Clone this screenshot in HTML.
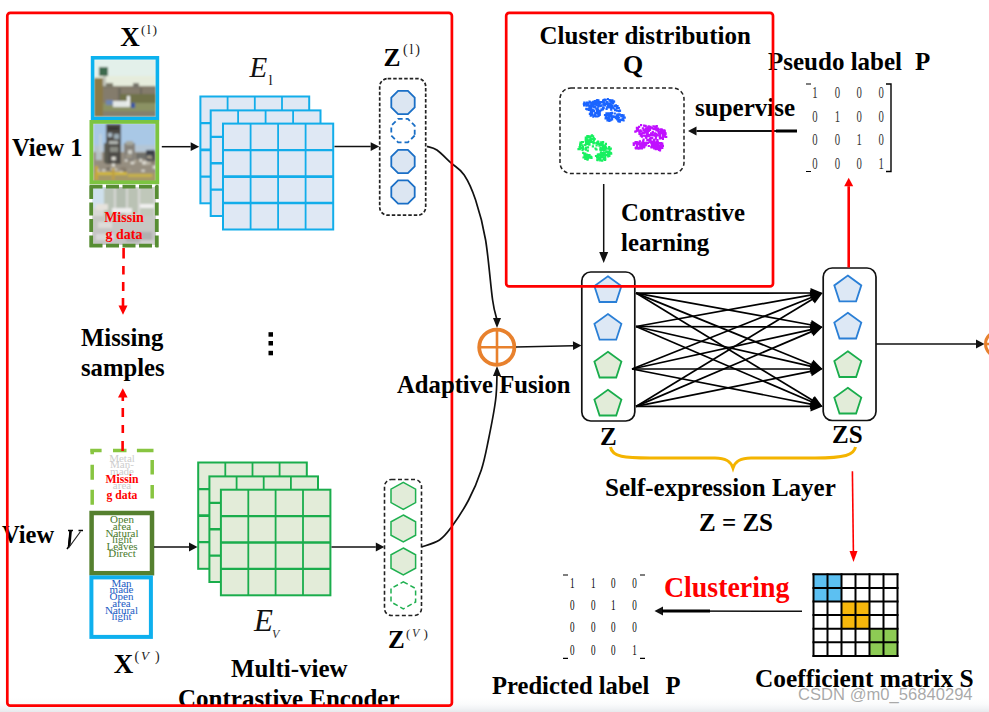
<!DOCTYPE html>
<html><head><meta charset="utf-8"><style>
html,body{margin:0;padding:0;background:#fff;width:989px;height:712px;overflow:hidden}
svg{display:block}
text{font-family:"Liberation Serif",serif}
.b{font-weight:bold}
</style></head><body>
<svg width="989" height="712" viewBox="0 0 989 712">
<defs>
<linearGradient id="bot" x1="0" y1="0" x2="0" y2="1"><stop offset="0" stop-color="#ffffff"/><stop offset="0.45" stop-color="#fafbfc"/><stop offset="0.75" stop-color="#f1f3f5"/><stop offset="1" stop-color="#e7eaed"/></linearGradient>
<clipPath id="clipBot"><rect x="0" y="0" width="989" height="708"/></clipPath>
</defs>
<rect x="0" y="698" width="989" height="14" fill="url(#bot)"/>
<rect x="200.4" y="96.5" width="108.8" height="106.8" fill="#dfe8f4" stroke="#12adea" stroke-width="2"/>
<line x1="227.6" y1="96.5" x2="227.6" y2="203.3" stroke="#12adea" stroke-width="1.8"/>
<line x1="200.4" y1="123.2" x2="309.2" y2="123.2" stroke="#12adea" stroke-width="2.3"/>
<line x1="254.8" y1="96.5" x2="254.8" y2="203.3" stroke="#12adea" stroke-width="1.8"/>
<line x1="200.4" y1="149.9" x2="309.2" y2="149.9" stroke="#12adea" stroke-width="2.6"/>
<line x1="282.0" y1="96.5" x2="282.0" y2="203.3" stroke="#12adea" stroke-width="1.8"/>
<line x1="200.4" y1="176.6" x2="309.2" y2="176.6" stroke="#12adea" stroke-width="2.3"/>
<rect x="210.7" y="110.4" width="109.8" height="105.6" fill="#dfe8f4" stroke="#12adea" stroke-width="2"/>
<line x1="238.1" y1="110.4" x2="238.1" y2="216.0" stroke="#12adea" stroke-width="1.8"/>
<line x1="210.7" y1="136.8" x2="320.5" y2="136.8" stroke="#12adea" stroke-width="2.3"/>
<line x1="265.6" y1="110.4" x2="265.6" y2="216.0" stroke="#12adea" stroke-width="1.8"/>
<line x1="210.7" y1="163.2" x2="320.5" y2="163.2" stroke="#12adea" stroke-width="2.6"/>
<line x1="293.1" y1="110.4" x2="293.1" y2="216.0" stroke="#12adea" stroke-width="1.8"/>
<line x1="210.7" y1="189.6" x2="320.5" y2="189.6" stroke="#12adea" stroke-width="2.3"/>
<rect x="223.0" y="123.6" width="110.2" height="105.9" fill="#dfe8f4" stroke="#12adea" stroke-width="2"/>
<line x1="250.6" y1="123.6" x2="250.6" y2="229.5" stroke="#12adea" stroke-width="1.8"/>
<line x1="223.0" y1="150.1" x2="333.2" y2="150.1" stroke="#12adea" stroke-width="2.3"/>
<line x1="278.1" y1="123.6" x2="278.1" y2="229.5" stroke="#12adea" stroke-width="1.8"/>
<line x1="223.0" y1="176.6" x2="333.2" y2="176.6" stroke="#12adea" stroke-width="2.6"/>
<line x1="305.6" y1="123.6" x2="305.6" y2="229.5" stroke="#12adea" stroke-width="1.8"/>
<line x1="223.0" y1="203.0" x2="333.2" y2="203.0" stroke="#12adea" stroke-width="2.3"/>
<rect x="198.2" y="462.5" width="108.6" height="106.3" fill="#e3ecd9" stroke="#1aad4c" stroke-width="2"/>
<line x1="225.3" y1="462.5" x2="225.3" y2="568.8" stroke="#1aad4c" stroke-width="1.8"/>
<line x1="198.2" y1="489.1" x2="306.8" y2="489.1" stroke="#1aad4c" stroke-width="2.3"/>
<line x1="252.5" y1="462.5" x2="252.5" y2="568.8" stroke="#1aad4c" stroke-width="1.8"/>
<line x1="198.2" y1="515.6" x2="306.8" y2="515.6" stroke="#1aad4c" stroke-width="2.6"/>
<line x1="279.6" y1="462.5" x2="279.6" y2="568.8" stroke="#1aad4c" stroke-width="1.8"/>
<line x1="198.2" y1="542.2" x2="306.8" y2="542.2" stroke="#1aad4c" stroke-width="2.3"/>
<rect x="209.4" y="476.4" width="108.6" height="105.6" fill="#e3ecd9" stroke="#1aad4c" stroke-width="2"/>
<line x1="236.6" y1="476.4" x2="236.6" y2="582.0" stroke="#1aad4c" stroke-width="1.8"/>
<line x1="209.4" y1="502.8" x2="318.0" y2="502.8" stroke="#1aad4c" stroke-width="2.3"/>
<line x1="263.7" y1="476.4" x2="263.7" y2="582.0" stroke="#1aad4c" stroke-width="1.8"/>
<line x1="209.4" y1="529.2" x2="318.0" y2="529.2" stroke="#1aad4c" stroke-width="2.6"/>
<line x1="290.9" y1="476.4" x2="290.9" y2="582.0" stroke="#1aad4c" stroke-width="1.8"/>
<line x1="209.4" y1="555.6" x2="318.0" y2="555.6" stroke="#1aad4c" stroke-width="2.3"/>
<rect x="220.9" y="489.7" width="109.5" height="105.6" fill="#e3ecd9" stroke="#1aad4c" stroke-width="2"/>
<line x1="248.3" y1="489.7" x2="248.3" y2="595.3" stroke="#1aad4c" stroke-width="1.8"/>
<line x1="220.9" y1="516.1" x2="330.4" y2="516.1" stroke="#1aad4c" stroke-width="2.3"/>
<line x1="275.6" y1="489.7" x2="275.6" y2="595.3" stroke="#1aad4c" stroke-width="1.8"/>
<line x1="220.9" y1="542.5" x2="330.4" y2="542.5" stroke="#1aad4c" stroke-width="2.6"/>
<line x1="303.0" y1="489.7" x2="303.0" y2="595.3" stroke="#1aad4c" stroke-width="1.8"/>
<line x1="220.9" y1="568.9" x2="330.4" y2="568.9" stroke="#1aad4c" stroke-width="2.3"/>
<defs><filter id="blur1" x="-5%" y="-5%" width="110%" height="110%"><feGaussianBlur stdDeviation="1.3"/></filter><filter id="blur2"><feGaussianBlur stdDeviation="0.5"/></filter><clipPath id="cp1"><rect x="94" y="59.5" width="62" height="58"/></clipPath><clipPath id="cp2"><rect x="93" y="123.5" width="63" height="58"/></clipPath><clipPath id="cp3"><rect x="92" y="187" width="64" height="58"/></clipPath></defs>
<g filter="url(#blur1)" clip-path="url(#cp1)"><rect x="94" y="59" width="62" height="60" fill="#e3f0ea" fill-opacity="1"/><rect x="94" y="76" width="62" height="12" fill="#e6ecdc" fill-opacity="1"/><rect x="103" y="86" width="53" height="17" fill="#847c6c" fill-opacity="1"/><rect x="104" y="83" width="9" height="5" fill="#7a7868" fill-opacity="1"/><rect x="133" y="83" width="6" height="5" fill="#77756a" fill-opacity="1"/><rect x="118" y="88" width="3" height="14" fill="#6e6a5e" fill-opacity="1"/><rect x="140" y="88" width="2" height="14" fill="#6a665c" fill-opacity="1"/><rect x="120" y="94" width="36" height="10" fill="#707248" fill-opacity="1"/><rect x="94" y="103" width="62" height="14" fill="#8b9264" fill-opacity="1"/><rect x="94" y="111" width="62" height="6" fill="#85806e" fill-opacity="1"/><rect x="94" y="78" width="9" height="39" fill="#8a7a46" fill-opacity="1"/><rect x="99" y="67" width="9" height="9" fill="#3d6b4e" fill-opacity="1"/><rect x="103" y="76" width="3" height="10" fill="#bfc2b8" fill-opacity="1"/><rect x="113" y="101" width="17" height="6" fill="#e4e8e6" fill-opacity="1"/><rect x="127" y="96" width="3" height="9" fill="#eef0ee" fill-opacity="1"/><rect x="131" y="103" width="4" height="5" fill="#3555a5" fill-opacity="1"/><rect x="106" y="100" width="7" height="5" fill="#6e86b0" fill-opacity="1"/></g>
<rect x="92.6" y="57.8" width="64.8" height="60.8" fill="none" stroke="#0cb2ee" stroke-width="3.6"/>
<g filter="url(#blur1)" clip-path="url(#cp2)"><rect x="93" y="123" width="63" height="59" fill="#a9c8e6" fill-opacity="1"/><rect x="93" y="145" width="63" height="8" fill="#b4c6d6" fill-opacity="1"/><rect x="93" y="152" width="63" height="30" fill="#968e80" fill-opacity="1"/><rect x="106" y="124" width="15" height="40" fill="#4e4c46" fill-opacity="1"/><rect x="108" y="127" width="11" height="3" fill="#343430" fill-opacity="1"/><rect x="108" y="133" width="4" height="4" fill="#a8b8c4" fill-opacity="1"/><rect x="114" y="134" width="5" height="5" fill="#9aaab4" fill-opacity="1"/><rect x="109" y="141" width="9" height="3" fill="#b0b4b0" fill-opacity="1"/><rect x="110" y="147" width="8" height="5" fill="#8a8c84" fill-opacity="1"/><rect x="104" y="143" width="4" height="20" fill="#5a5a50" fill-opacity="1"/><rect x="99.5" y="134" width="2" height="26" fill="#c8d2da" fill-opacity="1"/><rect x="96" y="148" width="3" height="12" fill="#b8c4c8" fill-opacity="1"/><rect x="124" y="143" width="11" height="18" fill="#86827a" fill-opacity="1"/><rect x="126" y="141" width="7" height="4" fill="#a6a89e" fill-opacity="1"/><rect x="128" y="150" width="4" height="4" fill="#d0d0c8" fill-opacity="1"/><rect x="146" y="150" width="9" height="11" fill="#3a404a" fill-opacity="1"/><rect x="136" y="153" width="10" height="6" fill="#70706a" fill-opacity="1"/><rect x="107.3" y="167.5" width="5.7" height="2.4" fill="#6e685c" fill-opacity="1"/><rect x="127.9" y="168.9" width="3.0" height="2.0" fill="#a49c8a" fill-opacity="1"/><rect x="152.7" y="165.8" width="3.9" height="2.8" fill="#e6e4dc" fill-opacity="1"/><rect x="102.0" y="169.6" width="3.6" height="1.5" fill="#e6e4dc" fill-opacity="1"/><rect x="139.6" y="158.7" width="2.2" height="3.1" fill="#e6e4dc" fill-opacity="1"/><rect x="142.4" y="161.2" width="4.9" height="3.3" fill="#e6e4dc" fill-opacity="1"/><rect x="135.8" y="176.2" width="4.9" height="2.7" fill="#a49c8a" fill-opacity="1"/><rect x="150.8" y="158.1" width="2.4" height="1.8" fill="#6e685c" fill-opacity="1"/><rect x="106.0" y="177.2" width="5.1" height="3.2" fill="#a49c8a" fill-opacity="1"/><rect x="118.3" y="174.2" width="3.4" height="2.7" fill="#e6e4dc" fill-opacity="1"/><rect x="128.1" y="175.8" width="5.7" height="1.6" fill="#8a8070" fill-opacity="1"/><rect x="109.8" y="168.9" width="2.7" height="3.2" fill="#8a8070" fill-opacity="1"/><rect x="150.9" y="175.8" width="2.4" height="2.8" fill="#e6e4dc" fill-opacity="1"/><rect x="131.0" y="177.7" width="3.1" height="1.6" fill="#6e685c" fill-opacity="1"/><rect x="144.2" y="177.8" width="3.4" height="1.6" fill="#d8d6cc" fill-opacity="1"/><rect x="146.8" y="155.5" width="5.1" height="3.2" fill="#a49c8a" fill-opacity="1"/><rect x="95.7" y="169.1" width="3.5" height="2.7" fill="#d8d6cc" fill-opacity="1"/><rect x="126.1" y="176.2" width="4.0" height="3.5" fill="#6e685c" fill-opacity="1"/><rect x="111.6" y="156.8" width="4.1" height="3.4" fill="#e6e4dc" fill-opacity="1"/><rect x="151.3" y="161.7" width="2.6" height="1.6" fill="#6e685c" fill-opacity="1"/><rect x="145.1" y="162.2" width="5.6" height="2.3" fill="#bcb6a8" fill-opacity="1"/><rect x="120.6" y="167.0" width="5.5" height="2.9" fill="#8a8070" fill-opacity="1"/><rect x="99.2" y="177.4" width="3.1" height="2.8" fill="#e6e4dc" fill-opacity="1"/><rect x="135.9" y="176.5" width="5.9" height="2.5" fill="#a49c8a" fill-opacity="1"/><rect x="125.9" y="155.3" width="5.9" height="2.1" fill="#a49c8a" fill-opacity="1"/><rect x="115.6" y="168.6" width="2.2" height="2.8" fill="#bcb6a8" fill-opacity="1"/><rect x="121.0" y="170.6" width="4.4" height="2.1" fill="#6e685c" fill-opacity="1"/><rect x="122.4" y="168.6" width="2.1" height="2.2" fill="#8a8070" fill-opacity="1"/><rect x="130.7" y="161.9" width="3.3" height="2.2" fill="#e6e4dc" fill-opacity="1"/><rect x="111.8" y="163.5" width="3.1" height="3.1" fill="#e6e4dc" fill-opacity="1"/><rect x="99.3" y="173.7" width="4.7" height="1.8" fill="#e6e4dc" fill-opacity="1"/><rect x="123.0" y="170.0" width="3.0" height="1.9" fill="#6e685c" fill-opacity="1"/><rect x="119.1" y="171.1" width="4.4" height="3.4" fill="#d8d6cc" fill-opacity="1"/><rect x="133.5" y="160.2" width="2.3" height="3.0" fill="#bcb6a8" fill-opacity="1"/><rect x="106.1" y="168.1" width="2.9" height="1.7" fill="#6e685c" fill-opacity="1"/><rect x="124.8" y="159.4" width="2.7" height="2.1" fill="#e6e4dc" fill-opacity="1"/><rect x="141.4" y="169.8" width="3.4" height="1.8" fill="#e6e4dc" fill-opacity="1"/><rect x="110.5" y="173.3" width="3.9" height="2.8" fill="#6e685c" fill-opacity="1"/><rect x="110.4" y="168.1" width="5.7" height="1.8" fill="#d8d6cc" fill-opacity="1"/><rect x="93.3" y="176.7" width="5.9" height="2.4" fill="#e6e4dc" fill-opacity="1"/><rect x="93" y="173" width="63" height="9" fill="#a69866" fill-opacity="1"/><rect x="95" y="172" width="32" height="3" fill="#d2b83a" fill-opacity="1"/><rect x="128" y="174" width="24" height="3" fill="#c6b04c" fill-opacity="1"/><rect x="95" y="166" width="3" height="14" fill="#c8a838" fill-opacity="1"/><rect x="112" y="168" width="2.5" height="12" fill="#c0a040" fill-opacity="1"/></g>
<rect x="91.4" y="121.9" width="65.9" height="60.4" fill="none" stroke="#7cc441" stroke-width="3.8"/>
<g filter="url(#blur1)" clip-path="url(#cp3)"><rect x="92" y="186" width="65" height="60" fill="#d8d8d6" fill-opacity="1"/><rect x="92" y="186" width="22" height="22" fill="#cfe0ec" fill-opacity="1"/><rect x="104" y="188" width="10" height="28" fill="#b9c2b6" fill-opacity="1"/><rect x="116" y="186" width="10" height="30" fill="#b4bdb0" fill-opacity="1"/><rect x="128" y="188" width="10" height="26" fill="#bac2b4" fill-opacity="1"/><rect x="140" y="186" width="14" height="30" fill="#c0c8ba" fill-opacity="1"/><rect x="96" y="204" width="12" height="6" fill="#e6e2dc" fill-opacity="1"/><rect x="112" y="208" width="20" height="5" fill="#ececec" fill-opacity="1"/><rect x="140" y="204" width="14" height="4" fill="#f0f0f0" fill-opacity="1"/><rect x="92" y="216" width="65" height="14" fill="#c6c8c4" fill-opacity="1"/><rect x="98" y="222" width="14" height="6" fill="#dcdcd8" fill-opacity="1"/><rect x="92" y="230" width="65" height="16" fill="#c4c4c4" fill-opacity="1"/><rect x="96" y="234" width="18" height="6" fill="#d8d8d8" fill-opacity="1"/><rect x="126" y="232" width="26" height="10" fill="#b0b0b0" fill-opacity="1"/><rect x="140" y="240" width="16" height="6" fill="#d0d0d0" fill-opacity="1"/></g>
<path d="M91.2,186 V247 M156.8,186 V247 M89.5,186.6 H158.5 M89.5,245.6 H158.5" fill="none" stroke="#578d33" stroke-width="3.8" stroke-dasharray="13,3.5"/>
<text x="124" y="222.4" font-size="14" class="b" fill="#ff0000" text-anchor="middle">Missin</text>
<text x="124" y="239.4" font-size="14" class="b" fill="#ff0000" text-anchor="middle">g data</text>
<path d="M90.2,450.6 H101.6 M113,450.6 H126.5 M136.9,450.6 H153.5 M92.2,449 V454.3 M92.2,464.7 V479.8 M92.2,489.7 V504.7 M152.2,460 V474.6 M152.2,485 V498.5" fill="none" stroke="#88c541" stroke-width="3.5"/>
<text x="0" y="0" font-size="11" fill="#cdcdcd" text-anchor="middle" transform="translate(122,461.6) scale(1.0,1)" >Metal</text>
<text x="0" y="0" font-size="11" fill="#cdcdcd" text-anchor="middle" transform="translate(122,468.3) scale(1.0,1)" >Man-</text>
<text x="0" y="0" font-size="11" fill="#cdcdcd" text-anchor="middle" transform="translate(122,475) scale(1.0,1)" >made</text>
<text x="0" y="0" font-size="11" fill="#cdcdcd" text-anchor="middle" transform="translate(122,489) scale(1.0,1)" >area</text>
<text x="0" y="0" font-size="13" fill="#ff0000" text-anchor="middle" transform="translate(122,482.9) scale(0.9,1)" font-weight="bold">Missin</text>
<text x="0" y="0" font-size="13" fill="#ff0000" text-anchor="middle" transform="translate(122,499) scale(0.9,1)" font-weight="bold">g data</text>
<rect x="91.6" y="513" width="60.4" height="60.2" fill="#fff" stroke="#55802f" stroke-width="4.5"/>
<text x="0" y="0" font-size="10.5" fill="#4a7a2c" text-anchor="middle" transform="translate(122,523.2) scale(1.05,1)" >Open</text>
<text x="0" y="0" font-size="10.5" fill="#4a7a2c" text-anchor="middle" transform="translate(122,529.95) scale(1.05,1)" >area</text>
<text x="0" y="0" font-size="10.5" fill="#4a7a2c" text-anchor="middle" transform="translate(122,536.7) scale(1.05,1)" >Natural</text>
<text x="0" y="0" font-size="10.5" fill="#4a7a2c" text-anchor="middle" transform="translate(122,543.45) scale(1.05,1)" >light</text>
<text x="0" y="0" font-size="10.5" fill="#4a7a2c" text-anchor="middle" transform="translate(122,550.2) scale(1.05,1)" >Leaves</text>
<text x="0" y="0" font-size="10.5" fill="#4a7a2c" text-anchor="middle" transform="translate(122,556.95) scale(1.05,1)" >Direct</text>
<rect x="91.4" y="577.4" width="59.5" height="59.5" fill="#fff" stroke="#0eb0ee" stroke-width="4"/>
<text x="0" y="0" font-size="10.5" fill="#1a5cc4" text-anchor="middle" transform="translate(121.5,586.5) scale(1.05,1)" >Man</text>
<text x="0" y="0" font-size="10.5" fill="#1a5cc4" text-anchor="middle" transform="translate(121.5,593.25) scale(1.05,1)" >made</text>
<text x="0" y="0" font-size="10.5" fill="#1a5cc4" text-anchor="middle" transform="translate(121.5,600.0) scale(1.05,1)" >Open</text>
<text x="0" y="0" font-size="10.5" fill="#1a5cc4" text-anchor="middle" transform="translate(121.5,606.75) scale(1.05,1)" >area</text>
<text x="0" y="0" font-size="10.5" fill="#1a5cc4" text-anchor="middle" transform="translate(121.5,613.5) scale(1.05,1)" >Natural</text>
<text x="0" y="0" font-size="10.5" fill="#1a5cc4" text-anchor="middle" transform="translate(121.5,620.25) scale(1.05,1)" >light</text>
<text x="12" y="156" font-size="24.5" class="b">View 1</text>
<text x="2" y="543.3" font-size="24.5" class="b">View</text>
<path d="M68,530.5 H73 M78.5,530.5 H83 M70.5,531 L68.5,547 L67,549" fill="none" stroke="#000" stroke-width="1.6"/><path d="M70.6,531 L69.2,546" stroke="#000" stroke-width="2.6"/><path d="M80.5,531.5 L68.5,548" stroke="#222" stroke-width="1.2"/>
<text x="120.3" y="46" font-size="27" class="b">X</text>
<text x="141" y="33.5" font-size="13.5" fill="#222" letter-spacing="1.6">(l)</text>
<text x="113.7" y="673" font-size="27" class="b">X</text>
<text x="134.5" y="661" font-size="14" fill="#222">(</text><text x="141" y="660" font-size="13" font-style="italic" fill="#222">V</text><text x="155" y="661" font-size="14" fill="#222">)</text>
<text x="81" y="345.7" font-size="24.7" class="b">Missing</text>
<text x="81" y="376" font-size="24.7" class="b">samples</text>
<rect x="268.5" y="332.2" width="4.5" height="4.5" fill="#000"/>
<rect x="268.5" y="341.0" width="4.5" height="4.5" fill="#000"/>
<rect x="268.5" y="350.8" width="4.5" height="4.5" fill="#000"/>
<text x="249.5" y="77" font-size="29" font-style="italic" fill="#111">E</text>
<text x="268.5" y="84.5" font-size="15" fill="#222">l</text>
<text x="254" y="630.5" font-size="31" font-style="italic" fill="#111">E</text>
<text x="272" y="637.5" font-size="12" font-style="italic" fill="#333">V</text>
<text x="383.6" y="65.6" font-size="25.5" class="b">Z</text>
<text x="403" y="53.5" font-size="14" fill="#222" letter-spacing="1.8">(l)</text>
<text x="388" y="648" font-size="25" class="b">Z</text>
<text x="406" y="638" font-size="13" fill="#222">(</text><text x="412" y="636.5" font-size="12" font-style="italic" fill="#333">V</text><text x="423.5" y="638" font-size="13" fill="#222">)</text>
<text x="231" y="677" font-size="25" class="b">Multi-view</text>
<g clip-path="url(#clipBot)"><text x="178" y="707" font-size="25" class="b">Contrastive Encoder</text></g>
<line x1="161.8" y1="146.7" x2="190.7" y2="146.7" stroke="#111" stroke-width="1.5"/>
<path d="M199.2,146.7 L190.7,151.1 L190.7,142.3z" fill="#111"/>
<line x1="334.5" y1="146.6" x2="370.7" y2="146.6" stroke="#111" stroke-width="1.5"/>
<path d="M379.2,146.6 L370.7,151.0 L370.7,142.2z" fill="#111"/>
<line x1="154" y1="547" x2="189.0" y2="547.0" stroke="#111" stroke-width="1.5"/>
<path d="M197.5,547.0 L189.0,551.4 L189.0,542.6z" fill="#111"/>
<line x1="331.5" y1="547" x2="375.8" y2="547.0" stroke="#111" stroke-width="1.5"/>
<path d="M384.3,547.0 L375.8,551.4 L375.8,542.6z" fill="#111"/>
<path d="M123.6,248 V258.5 M123.4,266 V274.5 M123.2,282 V291 M123,298 V307" stroke="#ff0000" stroke-width="2.6" fill="none"/>
<path d="M123,314.8 L118.5,305.5 L127.5,305.5z" fill="#ff0000"/>
<path d="M122.8,396 V401 M122.8,408 V417 M122.8,425 V433 M122.6,441 V451" stroke="#ff0000" stroke-width="2.6" fill="none"/>
<path d="M122.8,388.2 L118,397.5 L127.6,397.5z" fill="#ff0000"/>
<rect x="379.7" y="78.6" width="46" height="136.6" rx="8" fill="#fff" stroke="#222" stroke-width="1.7" stroke-dasharray="3.5,2"/>
<polygon points="414.7,107.4 407.9,114.2 398.1,114.2 391.3,107.4 391.3,97.6 398.1,90.8 407.9,90.8 414.7,97.6" fill="#dce6f2" stroke="#1a6fc6" stroke-width="1.8"/>
<polygon points="414.7,135.5 407.9,142.3 398.1,142.3 391.3,135.5 391.3,125.7 398.1,118.9 407.9,118.9 414.7,125.7" fill="#fff" stroke="#1a6fc6" stroke-width="1.8" stroke-dasharray="5,3"/>
<polygon points="414.7,166.4 407.9,173.2 398.1,173.2 391.3,166.4 391.3,156.6 398.1,149.8 407.9,149.8 414.7,156.6" fill="#dce6f2" stroke="#1a6fc6" stroke-width="1.8"/>
<polygon points="414.7,196.9 407.9,203.7 398.1,203.7 391.3,196.9 391.3,187.1 398.1,180.3 407.9,180.3 414.7,187.1" fill="#dce6f2" stroke="#1a6fc6" stroke-width="1.8"/>
<rect x="384.5" y="479.5" width="37" height="136" rx="7" fill="#fff" stroke="#222" stroke-width="1.6" stroke-dasharray="4,2.5"/>
<polygon points="403.3,482.4 415.6,489.1 415.6,502.6 403.3,509.4 391.0,502.6 391.0,489.1" fill="#e2ecd9" stroke="#1fb050" stroke-width="1.5"/>
<polygon points="403.3,515.0 415.6,521.8 415.6,535.2 403.3,542.0 391.0,535.2 391.0,521.8" fill="#e2ecd9" stroke="#1fb050" stroke-width="1.5"/>
<polygon points="403.3,548.0 415.6,554.8 415.6,568.2 403.3,575.0 391.0,568.2 391.0,554.8" fill="#e2ecd9" stroke="#1fb050" stroke-width="1.5"/>
<polygon points="403.3,581.8 415.6,588.5 415.6,602.0 403.3,608.8 391.0,602.0 391.0,588.5" fill="#fff" stroke="#1fb050" stroke-width="1.5" stroke-dasharray="5,3"/>
<path d="M427,146.4 C428.6,147.0 432.9,147.2 436.9,150 C440.9,152.8 446.4,158.7 451,162.9 C455.6,167.1 460.1,168.8 464.2,175 C468.3,181.2 472.0,189.2 475.6,200 C479.2,210.8 482.8,223.3 485.6,240 C488.4,256.7 490.7,286.7 492.6,300 C494.5,313.3 496.3,316.7 497,320" fill="none" stroke="#111" stroke-width="1.7"/>
<path d="M497,328 L493,318 L501,318z" fill="#111"/>
<path d="M421.5,547 C424.5,545.8 434.6,543.2 439.5,540 C444.4,536.8 446.1,534.4 451,527.7 C455.9,521.0 463.6,509.6 468.6,500 C473.7,490.4 478.0,480.0 481.3,470 C484.6,460.0 486.0,451.7 488.4,440 C490.8,428.3 494.2,411.0 495.6,400 C497.0,389.0 496.8,378.3 497,374" fill="none" stroke="#111" stroke-width="1.7"/>
<path d="M497,366 L493,376 L501,376z" fill="#111"/>
<rect x="7.3" y="12.8" width="444.6" height="692.9" rx="3" fill="none" stroke="#ff0000" stroke-width="2.7"/>
<circle cx="496.8" cy="347.2" r="17.6" fill="#fff" stroke="#e8812d" stroke-width="3.8"/>
<line x1="479" y1="347.3" x2="515" y2="347.3" stroke="#e8812d" stroke-width="2.6"/>
<line x1="497" y1="329.3" x2="497" y2="365.3" stroke="#e8812d" stroke-width="2.6"/>
<text x="397" y="393.4" font-size="24.7" class="b">Adaptive Fusion</text>
<line x1="516" y1="347" x2="573.0" y2="345.7" stroke="#111" stroke-width="1.5"/>
<path d="M581.5,345.5 L573.1,350.1 L572.9,341.3z" fill="#111"/>
<rect x="581.8" y="272" width="53" height="149" rx="9" fill="#fff" stroke="#111" stroke-width="1.7"/>
<rect x="823.2" y="268" width="52.8" height="152.5" rx="9" fill="#fff" stroke="#111" stroke-width="1.7"/>
<polygon points="607.9,276.3 621.4,286.1 616.2,302.0 599.6,302.0 594.4,286.1" fill="#dde8f5" stroke="#2a7fd6" stroke-width="1.8"/>
<polygon points="607.9,314.0 621.4,323.8 616.2,339.7 599.6,339.7 594.4,323.8" fill="#dde8f5" stroke="#2a7fd6" stroke-width="1.8"/>
<polygon points="607.9,351.8 621.4,361.6 616.2,377.5 599.6,377.5 594.4,361.6" fill="#e2ecd9" stroke="#1aad4c" stroke-width="1.8"/>
<polygon points="607.9,389.8 621.4,399.6 616.2,415.5 599.6,415.5 594.4,399.6" fill="#e2ecd9" stroke="#1aad4c" stroke-width="1.8"/>
<polygon points="847.8,275.6 861.3,285.4 856.1,301.3 839.5,301.3 834.3,285.4" fill="#dde8f5" stroke="#2a7fd6" stroke-width="1.8"/>
<polygon points="847.8,312.8 861.3,322.6 856.1,338.5 839.5,338.5 834.3,322.6" fill="#dde8f5" stroke="#2a7fd6" stroke-width="1.8"/>
<polygon points="847.8,351.3 861.3,361.1 856.1,377.0 839.5,377.0 834.3,361.1" fill="#e2ecd9" stroke="#1aad4c" stroke-width="1.8"/>
<polygon points="847.8,387.8 861.3,397.6 856.1,413.5 839.5,413.5 834.3,397.6" fill="#e2ecd9" stroke="#1aad4c" stroke-width="1.8"/>
<line x1="636" y1="293.1" x2="814.5" y2="293.0" stroke="#000" stroke-width="1.7"/>
<line x1="636" y1="293.1" x2="814.5" y2="325.5" stroke="#000" stroke-width="1.7"/>
<line x1="636" y1="293.1" x2="814.5" y2="365.8" stroke="#000" stroke-width="1.7"/>
<line x1="636" y1="293.1" x2="814.5" y2="401.6" stroke="#000" stroke-width="1.7"/>
<line x1="636" y1="326.5" x2="814.5" y2="294.4" stroke="#000" stroke-width="1.7"/>
<line x1="636" y1="326.5" x2="814.5" y2="327.0" stroke="#000" stroke-width="1.7"/>
<line x1="636" y1="326.5" x2="814.5" y2="367.2" stroke="#000" stroke-width="1.7"/>
<line x1="636" y1="326.5" x2="814.5" y2="403.0" stroke="#000" stroke-width="1.7"/>
<line x1="632" y1="369" x2="814.5" y2="296.3" stroke="#000" stroke-width="1.7"/>
<line x1="632" y1="369" x2="814.5" y2="328.8" stroke="#000" stroke-width="1.7"/>
<line x1="632" y1="369" x2="814.5" y2="369.0" stroke="#000" stroke-width="1.7"/>
<line x1="632" y1="369" x2="814.5" y2="404.8" stroke="#000" stroke-width="1.7"/>
<line x1="636" y1="406.4" x2="814.5" y2="297.9" stroke="#000" stroke-width="1.7"/>
<line x1="636" y1="406.4" x2="814.5" y2="330.4" stroke="#000" stroke-width="1.7"/>
<line x1="636" y1="406.4" x2="814.5" y2="370.6" stroke="#000" stroke-width="1.7"/>
<line x1="636" y1="406.4" x2="814.5" y2="406.4" stroke="#000" stroke-width="1.7"/>
<path d="M822.5,293 L810.5,298.0 L810.5,288.0z" fill="#000"/>
<path d="M822.5,293 L811.6,300.0 L809.8,290.2z" fill="#000"/>
<path d="M822.5,293 L813.2,302.1 L809.5,292.8z" fill="#000"/>
<path d="M822.5,293 L814.8,303.5 L809.6,295.0z" fill="#000"/>
<path d="M822.5,327 L809.8,329.8 L811.6,319.9z" fill="#000"/>
<path d="M822.5,327 L810.5,332.0 L810.5,322.0z" fill="#000"/>
<path d="M822.5,327 L811.9,334.5 L809.7,324.7z" fill="#000"/>
<path d="M822.5,327 L813.4,336.3 L809.5,327.1z" fill="#000"/>
<path d="M822.5,369 L809.5,369.1 L813.3,359.8z" fill="#000"/>
<path d="M822.5,369 L809.7,371.2 L811.9,361.5z" fill="#000"/>
<path d="M822.5,369 L810.5,374.0 L810.5,364.0z" fill="#000"/>
<path d="M822.5,369 L811.7,376.3 L809.8,366.5z" fill="#000"/>
<path d="M822.5,406.4 L809.6,404.4 L814.8,395.9z" fill="#000"/>
<path d="M822.5,406.4 L809.5,406.3 L813.4,397.1z" fill="#000"/>
<path d="M822.5,406.4 L809.8,409.0 L811.7,399.2z" fill="#000"/>
<path d="M822.5,406.4 L810.5,411.4 L810.5,401.4z" fill="#000"/>
<text x="600" y="445.3" font-size="25" class="b">Z</text>
<text x="832" y="443.2" font-size="25" class="b">ZS</text>
<line x1="876" y1="344" x2="976.0" y2="344.0" stroke="#111" stroke-width="1.7"/>
<path d="M984.5,344.0 L976.0,348.4 L976.0,339.6z" fill="#111"/>
<circle cx="998" cy="344" r="12.5" fill="#fff" stroke="#e8812d" stroke-width="3"/>
<line x1="985" y1="344" x2="989" y2="344" stroke="#e8812d" stroke-width="2.5"/>
<path d="M610.5,447 C612,457 625,458 650,458 L715,458 C727,458 731,462 733,468 C735,462 739,458 751,458 L815,458 C845,458 854,455 855.5,447" fill="none" stroke="#f4b400" stroke-width="3"/>
<text x="605" y="495.7" font-size="25" class="b">Self-expression Layer</text>
<text x="699" y="531" font-size="25" class="b">Z = ZS</text>
<text x="539.5" y="44.2" font-size="25" class="b">Cluster distribution</text>
<text x="623" y="73" font-size="26" class="b">Q</text>
<rect x="560" y="88" width="124" height="85.5" rx="11" fill="none" stroke="#222" stroke-width="1.5" stroke-dasharray="4,2.5"/>
<path d="M612.4,100.2h2.2v2.2h-2.2zM583.0,104.4h2.2v2.2h-2.2zM608.0,104.3h2.2v2.2h-2.2zM592.4,103.2h2.2v2.2h-2.2zM585.4,104.5h2.2v2.2h-2.2zM593.6,100.2h2.2v2.2h-2.2zM599.6,105.0h2.2v2.2h-2.2zM590.1,103.0h2.2v2.2h-2.2zM595.5,99.7h2.2v2.2h-2.2zM590.0,104.6h2.2v2.2h-2.2zM590.2,112.7h2.2v2.2h-2.2zM596.5,112.5h2.2v2.2h-2.2zM616.1,118.4h2.2v2.2h-2.2zM615.9,109.5h2.2v2.2h-2.2zM610.1,106.5h2.2v2.2h-2.2zM600.4,100.9h2.2v2.2h-2.2zM617.0,117.0h2.2v2.2h-2.2zM609.8,99.3h2.2v2.2h-2.2zM583.7,103.2h2.2v2.2h-2.2zM606.4,119.3h2.2v2.2h-2.2zM605.5,112.4h2.2v2.2h-2.2zM608.6,117.9h2.2v2.2h-2.2zM606.1,117.0h2.2v2.2h-2.2zM619.0,119.4h2.2v2.2h-2.2zM588.6,105.6h2.2v2.2h-2.2zM592.2,102.1h2.2v2.2h-2.2zM616.8,116.1h2.2v2.2h-2.2zM592.2,115.5h2.2v2.2h-2.2zM602.6,99.0h2.2v2.2h-2.2zM617.8,110.0h2.2v2.2h-2.2zM597.4,104.6h2.2v2.2h-2.2zM601.8,108.4h2.2v2.2h-2.2zM609.2,100.0h2.2v2.2h-2.2zM593.8,100.1h2.2v2.2h-2.2zM602.0,100.2h2.2v2.2h-2.2zM605.4,101.5h2.2v2.2h-2.2zM600.3,104.2h2.2v2.2h-2.2zM620.5,118.9h2.2v2.2h-2.2zM617.6,113.9h2.2v2.2h-2.2zM609.8,115.6h2.2v2.2h-2.2zM610.6,104.4h2.2v2.2h-2.2zM592.8,109.5h2.2v2.2h-2.2zM597.3,99.3h2.2v2.2h-2.2zM617.6,113.2h2.2v2.2h-2.2zM605.1,113.8h2.2v2.2h-2.2zM591.0,110.8h2.2v2.2h-2.2zM606.7,97.9h2.2v2.2h-2.2zM618.9,109.5h2.2v2.2h-2.2zM609.4,105.0h2.2v2.2h-2.2zM592.1,110.1h2.2v2.2h-2.2zM609.9,115.2h2.2v2.2h-2.2zM603.4,104.3h2.2v2.2h-2.2zM600.3,109.0h2.2v2.2h-2.2zM608.3,119.8h2.2v2.2h-2.2zM608.2,119.1h2.2v2.2h-2.2zM610.3,101.3h2.2v2.2h-2.2zM608.0,116.4h2.2v2.2h-2.2zM622.5,119.4h2.2v2.2h-2.2zM607.0,118.0h2.2v2.2h-2.2zM598.2,102.3h2.2v2.2h-2.2zM588.6,100.9h2.2v2.2h-2.2zM623.6,116.6h2.2v2.2h-2.2zM592.4,109.8h2.2v2.2h-2.2zM597.6,102.1h2.2v2.2h-2.2zM613.7,115.6h2.2v2.2h-2.2zM606.4,116.4h2.2v2.2h-2.2zM609.6,119.1h2.2v2.2h-2.2zM610.1,112.0h2.2v2.2h-2.2zM597.2,105.6h2.2v2.2h-2.2zM587.5,103.0h2.2v2.2h-2.2zM592.1,100.7h2.2v2.2h-2.2zM592.3,105.1h2.2v2.2h-2.2zM616.3,105.0h2.2v2.2h-2.2zM609.0,114.7h2.2v2.2h-2.2zM602.9,101.4h2.2v2.2h-2.2zM591.1,104.3h2.2v2.2h-2.2zM597.2,108.5h2.2v2.2h-2.2zM605.1,115.0h2.2v2.2h-2.2zM608.9,112.6h2.2v2.2h-2.2zM615.4,115.6h2.2v2.2h-2.2zM595.0,115.2h2.2v2.2h-2.2zM612.1,115.2h2.2v2.2h-2.2zM611.0,111.7h2.2v2.2h-2.2zM613.7,104.7h2.2v2.2h-2.2zM586.6,104.2h2.2v2.2h-2.2zM618.8,119.2h2.2v2.2h-2.2zM618.5,113.2h2.2v2.2h-2.2zM588.2,105.1h2.2v2.2h-2.2zM620.1,114.6h2.2v2.2h-2.2zM606.4,101.3h2.2v2.2h-2.2zM612.1,106.5h2.2v2.2h-2.2zM616.6,117.5h2.2v2.2h-2.2zM602.1,99.6h2.2v2.2h-2.2zM587.5,102.2h2.2v2.2h-2.2zM590.9,108.6h2.2v2.2h-2.2zM591.6,109.0h2.2v2.2h-2.2zM604.5,117.2h2.2v2.2h-2.2zM592.4,110.0h2.2v2.2h-2.2zM603.4,102.8h2.2v2.2h-2.2zM607.3,112.3h2.2v2.2h-2.2zM593.9,103.2h2.2v2.2h-2.2zM618.0,116.4h2.2v2.2h-2.2zM604.8,102.8h2.2v2.2h-2.2zM586.7,103.6h2.2v2.2h-2.2zM595.5,112.1h2.2v2.2h-2.2zM585.2,107.8h2.2v2.2h-2.2zM592.9,101.7h2.2v2.2h-2.2zM601.8,108.2h2.2v2.2h-2.2zM597.8,110.1h2.2v2.2h-2.2zM598.4,104.2h2.2v2.2h-2.2zM614.8,104.3h2.2v2.2h-2.2zM593.2,100.8h2.2v2.2h-2.2zM583.2,101.6h2.2v2.2h-2.2zM622.6,116.6h2.2v2.2h-2.2zM612.0,102.0h2.2v2.2h-2.2zM589.4,101.4h2.2v2.2h-2.2zM590.8,104.3h2.2v2.2h-2.2zM595.5,104.0h2.2v2.2h-2.2zM595.2,107.6h2.2v2.2h-2.2zM607.1,104.8h2.2v2.2h-2.2zM618.7,120.5h2.2v2.2h-2.2zM591.2,105.5h2.2v2.2h-2.2zM593.9,114.7h2.2v2.2h-2.2zM608.0,106.2h2.2v2.2h-2.2zM602.0,106.5h2.2v2.2h-2.2zM598.6,111.4h2.2v2.2h-2.2zM594.2,105.7h2.2v2.2h-2.2zM608.2,102.5h2.2v2.2h-2.2zM588.4,100.6h2.2v2.2h-2.2zM609.5,103.5h2.2v2.2h-2.2zM603.6,98.5h2.2v2.2h-2.2zM605.6,100.8h2.2v2.2h-2.2zM620.6,115.0h2.2v2.2h-2.2zM603.9,114.0h2.2v2.2h-2.2zM587.5,102.0h2.2v2.2h-2.2zM590.8,112.7h2.2v2.2h-2.2zM622.5,114.2h2.2v2.2h-2.2zM597.4,112.8h2.2v2.2h-2.2zM604.5,117.2h2.2v2.2h-2.2zM589.7,114.6h2.2v2.2h-2.2zM598.7,113.0h2.2v2.2h-2.2zM596.4,112.0h2.2v2.2h-2.2zM621.5,117.5h2.2v2.2h-2.2zM611.0,118.3h2.2v2.2h-2.2zM622.0,118.7h2.2v2.2h-2.2zM595.7,108.7h2.2v2.2h-2.2zM583.9,102.6h2.2v2.2h-2.2zM587.3,103.5h2.2v2.2h-2.2zM590.8,105.3h2.2v2.2h-2.2zM590.9,110.1h2.2v2.2h-2.2zM616.2,113.5h2.2v2.2h-2.2zM619.3,119.0h2.2v2.2h-2.2zM608.5,104.0h2.2v2.2h-2.2zM603.8,103.1h2.2v2.2h-2.2zM597.9,102.6h2.2v2.2h-2.2zM617.7,107.0h2.2v2.2h-2.2zM590.6,105.4h2.2v2.2h-2.2zM590.4,102.3h2.2v2.2h-2.2zM596.9,110.4h2.2v2.2h-2.2zM615.3,116.9h2.2v2.2h-2.2zM608.8,112.4h2.2v2.2h-2.2zM590.6,111.9h2.2v2.2h-2.2zM594.2,111.7h2.2v2.2h-2.2zM612.7,107.4h2.2v2.2h-2.2zM588.4,107.2h2.2v2.2h-2.2zM615.5,106.7h2.2v2.2h-2.2zM602.6,103.6h2.2v2.2h-2.2zM616.8,113.9h2.2v2.2h-2.2zM603.8,104.2h2.2v2.2h-2.2zM610.5,105.2h2.2v2.2h-2.2zM614.5,108.7h2.2v2.2h-2.2zM589.7,110.8h2.2v2.2h-2.2zM602.5,99.7h2.2v2.2h-2.2zM610.0,103.7h2.2v2.2h-2.2zM587.5,107.7h2.2v2.2h-2.2zM587.0,103.3h2.2v2.2h-2.2zM611.3,99.2h2.2v2.2h-2.2zM593.7,101.9h2.2v2.2h-2.2zM595.0,101.2h2.2v2.2h-2.2zM617.2,119.2h2.2v2.2h-2.2zM611.1,116.3h2.2v2.2h-2.2zM619.5,118.8h2.2v2.2h-2.2zM595.1,103.1h2.2v2.2h-2.2zM621.5,118.2h2.2v2.2h-2.2zM606.8,104.3h2.2v2.2h-2.2zM615.3,116.8h2.2v2.2h-2.2zM604.4,99.0h2.2v2.2h-2.2zM595.9,110.4h2.2v2.2h-2.2zM620.7,114.0h2.2v2.2h-2.2zM589.9,109.7h2.2v2.2h-2.2zM608.0,112.2h2.2v2.2h-2.2zM613.0,100.6h2.2v2.2h-2.2zM598.6,100.9h2.2v2.2h-2.2zM596.1,99.1h2.2v2.2h-2.2zM596.4,107.7h2.2v2.2h-2.2zM602.6,107.0h2.2v2.2h-2.2zM610.4,113.4h2.2v2.2h-2.2zM596.5,102.1h2.2v2.2h-2.2zM589.0,104.7h2.2v2.2h-2.2zM602.5,101.0h2.2v2.2h-2.2zM597.5,114.8h2.2v2.2h-2.2zM585.8,101.5h2.2v2.2h-2.2zM614.0,109.0h2.2v2.2h-2.2zM609.5,104.2h2.2v2.2h-2.2zM618.6,109.9h2.2v2.2h-2.2zM587.5,108.3h2.2v2.2h-2.2zM608.3,114.7h2.2v2.2h-2.2zM608.5,104.5h2.2v2.2h-2.2zM600.4,108.2h2.2v2.2h-2.2zM606.2,113.9h2.2v2.2h-2.2zM593.0,101.3h2.2v2.2h-2.2zM591.0,102.0h2.2v2.2h-2.2zM599.5,104.3h2.2v2.2h-2.2zM614.8,104.6h2.2v2.2h-2.2zM586.2,108.4h2.2v2.2h-2.2zM596.7,100.7h2.2v2.2h-2.2zM617.2,119.7h2.2v2.2h-2.2zM597.7,100.8h2.2v2.2h-2.2zM592.4,102.9h2.2v2.2h-2.2zM594.0,113.4h2.2v2.2h-2.2zM606.1,106.2h2.2v2.2h-2.2zM605.5,107.7h2.2v2.2h-2.2zM610.1,108.5h2.2v2.2h-2.2zM593.2,106.4h2.2v2.2h-2.2zM614.7,117.0h2.2v2.2h-2.2zM595.7,107.8h2.2v2.2h-2.2zM597.6,101.2h2.2v2.2h-2.2zM602.3,102.0h2.2v2.2h-2.2zM615.9,114.8h2.2v2.2h-2.2zM613.3,115.9h2.2v2.2h-2.2zM582.8,102.9h2.2v2.2h-2.2zM598.6,113.9h2.2v2.2h-2.2zM595.0,102.3h2.2v2.2h-2.2zM599.8,104.3h2.2v2.2h-2.2zM605.4,112.3h2.2v2.2h-2.2zM611.2,104.5h2.2v2.2h-2.2zM585.9,102.5h2.2v2.2h-2.2zM589.9,106.6h2.2v2.2h-2.2zM610.0,114.5h2.2v2.2h-2.2zM610.1,112.0h2.2v2.2h-2.2zM617.6,120.2h2.2v2.2h-2.2zM590.8,101.5h2.2v2.2h-2.2zM599.0,110.1h2.2v2.2h-2.2zM588.8,112.8h2.2v2.2h-2.2zM608.4,99.1h2.2v2.2h-2.2zM596.3,115.4h2.2v2.2h-2.2zM612.0,102.1h2.2v2.2h-2.2zM588.7,108.6h2.2v2.2h-2.2zM606.9,112.5h2.2v2.2h-2.2zM616.4,104.9h2.2v2.2h-2.2zM607.6,114.2h2.2v2.2h-2.2zM591.6,113.5h2.2v2.2h-2.2zM599.3,101.9h2.2v2.2h-2.2zM606.5,103.3h2.2v2.2h-2.2zM621.5,115.0h2.2v2.2h-2.2zM591.1,103.8h2.2v2.2h-2.2zM616.6,113.7h2.2v2.2h-2.2zM587.9,108.9h2.2v2.2h-2.2zM607.4,104.9h2.2v2.2h-2.2zM613.7,112.4h2.2v2.2h-2.2z" fill="#1a64ff"/>
<path d="M656.5,147.7h2.2v2.2h-2.2zM644.9,127.5h2.2v2.2h-2.2zM661.7,131.7h2.2v2.2h-2.2zM653.1,144.4h2.2v2.2h-2.2zM647.9,125.8h2.2v2.2h-2.2zM635.0,142.0h2.2v2.2h-2.2zM634.8,146.5h2.2v2.2h-2.2zM655.6,140.4h2.2v2.2h-2.2zM640.6,133.8h2.2v2.2h-2.2zM646.7,134.7h2.2v2.2h-2.2zM653.6,133.9h2.2v2.2h-2.2zM658.9,128.5h2.2v2.2h-2.2zM651.2,127.1h2.2v2.2h-2.2zM657.2,146.2h2.2v2.2h-2.2zM644.6,128.1h2.2v2.2h-2.2zM636.9,127.1h2.2v2.2h-2.2zM640.8,147.3h2.2v2.2h-2.2zM645.5,128.9h2.2v2.2h-2.2zM657.9,131.1h2.2v2.2h-2.2zM644.5,129.9h2.2v2.2h-2.2zM648.3,140.7h2.2v2.2h-2.2zM656.4,146.5h2.2v2.2h-2.2zM653.1,138.7h2.2v2.2h-2.2zM662.7,132.2h2.2v2.2h-2.2zM638.4,130.8h2.2v2.2h-2.2zM660.1,128.2h2.2v2.2h-2.2zM662.4,131.9h2.2v2.2h-2.2zM656.4,138.9h2.2v2.2h-2.2zM639.7,134.6h2.2v2.2h-2.2zM654.4,134.8h2.2v2.2h-2.2zM641.7,131.7h2.2v2.2h-2.2zM643.4,141.7h2.2v2.2h-2.2zM663.4,129.7h2.2v2.2h-2.2zM658.8,133.2h2.2v2.2h-2.2zM635.5,129.9h2.2v2.2h-2.2zM648.8,134.0h2.2v2.2h-2.2zM647.7,129.8h2.2v2.2h-2.2zM642.5,131.6h2.2v2.2h-2.2zM646.7,131.4h2.2v2.2h-2.2zM654.2,134.3h2.2v2.2h-2.2zM636.9,146.8h2.2v2.2h-2.2zM644.9,136.1h2.2v2.2h-2.2zM647.7,135.1h2.2v2.2h-2.2zM659.8,141.9h2.2v2.2h-2.2zM642.1,145.4h2.2v2.2h-2.2zM657.2,145.5h2.2v2.2h-2.2zM659.3,146.5h2.2v2.2h-2.2zM661.8,132.3h2.2v2.2h-2.2zM654.4,145.0h2.2v2.2h-2.2zM644.4,131.4h2.2v2.2h-2.2zM649.4,139.3h2.2v2.2h-2.2zM641.4,143.7h2.2v2.2h-2.2zM657.0,128.8h2.2v2.2h-2.2zM635.8,129.2h2.2v2.2h-2.2zM645.2,130.1h2.2v2.2h-2.2zM650.5,146.4h2.2v2.2h-2.2zM646.9,127.8h2.2v2.2h-2.2zM656.1,140.5h2.2v2.2h-2.2zM642.7,145.2h2.2v2.2h-2.2zM653.8,132.3h2.2v2.2h-2.2zM640.9,135.5h2.2v2.2h-2.2zM655.0,132.7h2.2v2.2h-2.2zM645.0,128.2h2.2v2.2h-2.2zM658.7,136.2h2.2v2.2h-2.2zM651.7,131.1h2.2v2.2h-2.2zM638.1,142.6h2.2v2.2h-2.2zM636.8,128.8h2.2v2.2h-2.2zM661.2,146.8h2.2v2.2h-2.2zM644.7,144.0h2.2v2.2h-2.2zM640.3,130.3h2.2v2.2h-2.2zM654.7,148.0h2.2v2.2h-2.2zM659.8,131.7h2.2v2.2h-2.2zM649.8,133.2h2.2v2.2h-2.2zM645.7,141.6h2.2v2.2h-2.2zM638.1,130.2h2.2v2.2h-2.2zM661.9,134.6h2.2v2.2h-2.2zM663.3,135.5h2.2v2.2h-2.2zM646.4,131.4h2.2v2.2h-2.2zM648.7,138.1h2.2v2.2h-2.2zM635.8,126.7h2.2v2.2h-2.2zM656.8,143.0h2.2v2.2h-2.2zM636.3,141.8h2.2v2.2h-2.2zM635.6,141.1h2.2v2.2h-2.2zM662.2,132.7h2.2v2.2h-2.2zM655.3,129.4h2.2v2.2h-2.2zM642.9,134.5h2.2v2.2h-2.2zM660.0,130.6h2.2v2.2h-2.2zM646.5,131.1h2.2v2.2h-2.2zM637.3,147.5h2.2v2.2h-2.2zM655.9,141.7h2.2v2.2h-2.2zM634.6,130.4h2.2v2.2h-2.2zM645.0,135.2h2.2v2.2h-2.2zM634.2,130.6h2.2v2.2h-2.2zM646.3,126.4h2.2v2.2h-2.2zM639.7,145.2h2.2v2.2h-2.2zM655.0,135.4h2.2v2.2h-2.2zM656.6,134.3h2.2v2.2h-2.2zM659.4,147.2h2.2v2.2h-2.2zM639.3,129.2h2.2v2.2h-2.2zM643.3,142.2h2.2v2.2h-2.2zM647.6,125.3h2.2v2.2h-2.2zM654.3,125.5h2.2v2.2h-2.2zM657.6,146.8h2.2v2.2h-2.2zM659.5,145.2h2.2v2.2h-2.2zM659.0,137.3h2.2v2.2h-2.2zM645.4,130.1h2.2v2.2h-2.2zM648.2,126.8h2.2v2.2h-2.2zM652.4,141.6h2.2v2.2h-2.2zM657.9,131.9h2.2v2.2h-2.2zM634.9,147.3h2.2v2.2h-2.2zM660.1,145.4h2.2v2.2h-2.2zM655.4,142.8h2.2v2.2h-2.2zM640.1,132.7h2.2v2.2h-2.2zM642.6,146.3h2.2v2.2h-2.2zM652.0,134.1h2.2v2.2h-2.2zM649.5,125.7h2.2v2.2h-2.2zM643.0,124.5h2.2v2.2h-2.2zM644.3,124.8h2.2v2.2h-2.2zM641.1,141.6h2.2v2.2h-2.2zM634.5,140.9h2.2v2.2h-2.2zM644.6,125.0h2.2v2.2h-2.2zM657.6,144.8h2.2v2.2h-2.2zM645.6,133.1h2.2v2.2h-2.2zM648.7,128.0h2.2v2.2h-2.2zM658.8,135.2h2.2v2.2h-2.2zM665.1,135.7h2.2v2.2h-2.2zM638.0,146.8h2.2v2.2h-2.2zM640.9,146.3h2.2v2.2h-2.2zM640.1,133.3h2.2v2.2h-2.2zM660.7,128.5h2.2v2.2h-2.2zM634.6,146.9h2.2v2.2h-2.2zM642.0,127.4h2.2v2.2h-2.2zM642.1,139.9h2.2v2.2h-2.2zM653.1,144.6h2.2v2.2h-2.2zM651.5,146.4h2.2v2.2h-2.2zM635.4,141.7h2.2v2.2h-2.2zM652.8,141.7h2.2v2.2h-2.2zM659.2,144.9h2.2v2.2h-2.2zM656.7,141.0h2.2v2.2h-2.2zM659.6,132.0h2.2v2.2h-2.2zM656.3,143.4h2.2v2.2h-2.2zM645.3,136.7h2.2v2.2h-2.2zM638.0,143.0h2.2v2.2h-2.2zM652.8,144.6h2.2v2.2h-2.2zM639.1,145.5h2.2v2.2h-2.2zM639.8,142.8h2.2v2.2h-2.2zM661.2,136.7h2.2v2.2h-2.2zM652.6,143.4h2.2v2.2h-2.2zM651.4,132.3h2.2v2.2h-2.2zM661.8,129.3h2.2v2.2h-2.2zM652.3,142.8h2.2v2.2h-2.2zM634.3,142.4h2.2v2.2h-2.2zM659.9,146.2h2.2v2.2h-2.2zM651.9,142.5h2.2v2.2h-2.2zM662.0,131.5h2.2v2.2h-2.2zM649.2,126.3h2.2v2.2h-2.2zM657.9,142.0h2.2v2.2h-2.2zM655.7,129.2h2.2v2.2h-2.2zM648.5,134.6h2.2v2.2h-2.2zM642.5,138.6h2.2v2.2h-2.2zM653.1,140.0h2.2v2.2h-2.2zM653.1,147.4h2.2v2.2h-2.2zM644.4,134.9h2.2v2.2h-2.2zM653.2,141.2h2.2v2.2h-2.2zM655.1,142.3h2.2v2.2h-2.2zM657.8,148.8h2.2v2.2h-2.2zM658.4,148.5h2.2v2.2h-2.2zM652.2,141.2h2.2v2.2h-2.2zM647.0,141.8h2.2v2.2h-2.2zM646.5,126.9h2.2v2.2h-2.2zM653.4,141.8h2.2v2.2h-2.2zM664.5,132.8h2.2v2.2h-2.2zM642.7,128.9h2.2v2.2h-2.2zM657.9,148.7h2.2v2.2h-2.2zM651.3,142.5h2.2v2.2h-2.2zM646.6,133.4h2.2v2.2h-2.2zM652.3,125.2h2.2v2.2h-2.2zM637.5,141.6h2.2v2.2h-2.2zM650.2,141.9h2.2v2.2h-2.2zM661.2,132.1h2.2v2.2h-2.2zM645.4,142.6h2.2v2.2h-2.2zM650.2,146.1h2.2v2.2h-2.2zM650.7,142.7h2.2v2.2h-2.2zM656.6,141.8h2.2v2.2h-2.2zM654.2,142.7h2.2v2.2h-2.2zM648.9,128.8h2.2v2.2h-2.2zM643.5,143.7h2.2v2.2h-2.2zM646.1,133.3h2.2v2.2h-2.2zM652.3,146.4h2.2v2.2h-2.2zM654.2,146.4h2.2v2.2h-2.2zM649.5,137.1h2.2v2.2h-2.2zM639.8,146.2h2.2v2.2h-2.2zM647.7,144.9h2.2v2.2h-2.2zM663.0,134.9h2.2v2.2h-2.2zM652.9,139.7h2.2v2.2h-2.2zM659.6,143.6h2.2v2.2h-2.2zM653.6,144.8h2.2v2.2h-2.2zM652.0,134.2h2.2v2.2h-2.2zM657.5,131.0h2.2v2.2h-2.2zM656.5,144.0h2.2v2.2h-2.2zM652.5,128.1h2.2v2.2h-2.2zM643.4,145.2h2.2v2.2h-2.2zM662.1,133.8h2.2v2.2h-2.2zM647.0,129.4h2.2v2.2h-2.2zM647.3,128.8h2.2v2.2h-2.2zM639.3,146.3h2.2v2.2h-2.2zM660.8,145.5h2.2v2.2h-2.2zM660.1,142.0h2.2v2.2h-2.2zM660.1,146.7h2.2v2.2h-2.2zM641.8,127.2h2.2v2.2h-2.2zM657.2,129.7h2.2v2.2h-2.2zM632.7,143.7h2.2v2.2h-2.2zM655.2,127.0h2.2v2.2h-2.2zM652.6,134.4h2.2v2.2h-2.2zM636.2,127.8h2.2v2.2h-2.2zM656.8,146.7h2.2v2.2h-2.2zM648.0,138.9h2.2v2.2h-2.2zM650.9,146.4h2.2v2.2h-2.2zM651.1,144.8h2.2v2.2h-2.2zM654.0,128.1h2.2v2.2h-2.2zM654.4,144.7h2.2v2.2h-2.2zM638.6,147.3h2.2v2.2h-2.2zM660.4,132.2h2.2v2.2h-2.2zM632.6,142.3h2.2v2.2h-2.2zM664.3,132.0h2.2v2.2h-2.2zM636.1,141.6h2.2v2.2h-2.2zM654.7,137.6h2.2v2.2h-2.2zM663.1,129.3h2.2v2.2h-2.2zM654.8,145.5h2.2v2.2h-2.2zM650.7,133.7h2.2v2.2h-2.2zM664.2,132.8h2.2v2.2h-2.2zM650.7,145.0h2.2v2.2h-2.2zM639.3,144.9h2.2v2.2h-2.2zM658.1,146.9h2.2v2.2h-2.2zM657.6,146.3h2.2v2.2h-2.2zM658.6,131.9h2.2v2.2h-2.2zM659.1,135.1h2.2v2.2h-2.2zM656.2,133.7h2.2v2.2h-2.2zM638.8,140.3h2.2v2.2h-2.2zM644.8,129.1h2.2v2.2h-2.2zM661.0,144.5h2.2v2.2h-2.2zM643.5,131.1h2.2v2.2h-2.2zM661.8,144.8h2.2v2.2h-2.2zM650.8,134.2h2.2v2.2h-2.2zM645.4,135.1h2.2v2.2h-2.2zM640.0,124.1h2.2v2.2h-2.2zM658.6,142.4h2.2v2.2h-2.2zM658.9,149.2h2.2v2.2h-2.2zM663.7,135.1h2.2v2.2h-2.2zM655.7,125.0h2.2v2.2h-2.2zM656.7,145.0h2.2v2.2h-2.2zM661.2,142.5h2.2v2.2h-2.2zM638.4,132.8h2.2v2.2h-2.2zM653.7,127.8h2.2v2.2h-2.2zM640.7,143.8h2.2v2.2h-2.2zM646.3,133.6h2.2v2.2h-2.2zM664.0,132.8h2.2v2.2h-2.2zM651.1,137.1h2.2v2.2h-2.2zM642.7,131.8h2.2v2.2h-2.2zM636.0,144.8h2.2v2.2h-2.2zM645.6,131.2h2.2v2.2h-2.2zM661.8,137.8h2.2v2.2h-2.2zM650.0,132.2h2.2v2.2h-2.2zM641.3,141.9h2.2v2.2h-2.2zM646.2,138.9h2.2v2.2h-2.2zM643.0,146.1h2.2v2.2h-2.2zM638.0,125.7h2.2v2.2h-2.2zM641.6,144.4h2.2v2.2h-2.2zM647.5,134.2h2.2v2.2h-2.2zM637.8,143.1h2.2v2.2h-2.2zM657.3,146.8h2.2v2.2h-2.2zM653.3,146.0h2.2v2.2h-2.2zM641.0,146.3h2.2v2.2h-2.2zM650.6,140.5h2.2v2.2h-2.2zM663.7,130.3h2.2v2.2h-2.2zM638.3,142.1h2.2v2.2h-2.2zM635.9,144.0h2.2v2.2h-2.2zM647.0,126.3h2.2v2.2h-2.2zM656.9,127.5h2.2v2.2h-2.2zM638.8,143.2h2.2v2.2h-2.2z" fill="#c010ff"/>
<path d="M604.3,154.0h2.2v2.2h-2.2zM603.5,145.3h2.2v2.2h-2.2zM585.6,153.5h2.2v2.2h-2.2zM599.6,143.4h2.2v2.2h-2.2zM601.3,152.8h2.2v2.2h-2.2zM588.9,138.5h2.2v2.2h-2.2zM604.8,142.8h2.2v2.2h-2.2zM579.4,141.5h2.2v2.2h-2.2zM581.4,148.9h2.2v2.2h-2.2zM599.8,151.2h2.2v2.2h-2.2zM610.1,152.5h2.2v2.2h-2.2zM580.1,146.9h2.2v2.2h-2.2zM586.1,154.1h2.2v2.2h-2.2zM587.7,135.9h2.2v2.2h-2.2zM583.6,155.1h2.2v2.2h-2.2zM602.5,157.2h2.2v2.2h-2.2zM607.1,147.6h2.2v2.2h-2.2zM599.3,157.2h2.2v2.2h-2.2zM602.9,147.1h2.2v2.2h-2.2zM581.5,144.3h2.2v2.2h-2.2zM601.9,145.7h2.2v2.2h-2.2zM589.9,155.8h2.2v2.2h-2.2zM592.0,135.3h2.2v2.2h-2.2zM584.8,138.9h2.2v2.2h-2.2zM597.2,141.0h2.2v2.2h-2.2zM609.1,151.5h2.2v2.2h-2.2zM601.8,145.4h2.2v2.2h-2.2zM592.3,142.2h2.2v2.2h-2.2zM579.2,145.3h2.2v2.2h-2.2zM588.4,135.2h2.2v2.2h-2.2zM603.9,145.9h2.2v2.2h-2.2zM599.1,143.0h2.2v2.2h-2.2zM586.6,134.9h2.2v2.2h-2.2zM609.7,152.0h2.2v2.2h-2.2zM589.6,140.7h2.2v2.2h-2.2zM580.1,141.8h2.2v2.2h-2.2zM596.9,142.6h2.2v2.2h-2.2zM586.9,141.2h2.2v2.2h-2.2zM578.7,148.0h2.2v2.2h-2.2zM608.7,148.1h2.2v2.2h-2.2zM588.4,140.3h2.2v2.2h-2.2zM597.4,154.9h2.2v2.2h-2.2zM587.9,142.1h2.2v2.2h-2.2zM596.2,158.7h2.2v2.2h-2.2zM603.2,157.7h2.2v2.2h-2.2zM590.0,140.6h2.2v2.2h-2.2zM602.8,158.1h2.2v2.2h-2.2zM586.1,138.9h2.2v2.2h-2.2zM587.3,154.2h2.2v2.2h-2.2zM601.7,144.1h2.2v2.2h-2.2zM590.2,156.1h2.2v2.2h-2.2zM595.4,148.4h2.2v2.2h-2.2zM600.1,148.9h2.2v2.2h-2.2zM600.6,152.0h2.2v2.2h-2.2zM585.9,140.7h2.2v2.2h-2.2zM599.2,148.6h2.2v2.2h-2.2zM598.3,144.5h2.2v2.2h-2.2zM594.9,154.9h2.2v2.2h-2.2zM592.2,140.9h2.2v2.2h-2.2zM602.5,148.7h2.2v2.2h-2.2zM599.9,156.1h2.2v2.2h-2.2zM603.7,153.1h2.2v2.2h-2.2zM586.5,140.5h2.2v2.2h-2.2zM585.9,142.7h2.2v2.2h-2.2zM601.6,155.7h2.2v2.2h-2.2zM591.0,134.8h2.2v2.2h-2.2zM578.5,145.9h2.2v2.2h-2.2zM603.1,152.9h2.2v2.2h-2.2zM581.9,140.9h2.2v2.2h-2.2zM596.7,153.8h2.2v2.2h-2.2zM586.7,157.5h2.2v2.2h-2.2zM590.3,139.6h2.2v2.2h-2.2zM604.1,156.2h2.2v2.2h-2.2zM603.4,148.8h2.2v2.2h-2.2zM601.4,148.4h2.2v2.2h-2.2zM603.8,158.8h2.2v2.2h-2.2zM580.9,141.1h2.2v2.2h-2.2zM585.2,156.8h2.2v2.2h-2.2zM595.2,142.0h2.2v2.2h-2.2zM590.4,156.8h2.2v2.2h-2.2zM577.4,148.0h2.2v2.2h-2.2zM604.7,146.2h2.2v2.2h-2.2zM586.4,158.5h2.2v2.2h-2.2zM598.2,153.3h2.2v2.2h-2.2zM584.1,152.4h2.2v2.2h-2.2zM601.1,159.5h2.2v2.2h-2.2zM602.5,148.9h2.2v2.2h-2.2zM594.4,147.4h2.2v2.2h-2.2zM586.5,158.0h2.2v2.2h-2.2zM602.3,153.8h2.2v2.2h-2.2zM601.4,152.5h2.2v2.2h-2.2zM609.7,147.6h2.2v2.2h-2.2zM604.6,147.7h2.2v2.2h-2.2zM587.3,135.5h2.2v2.2h-2.2zM598.6,156.7h2.2v2.2h-2.2zM588.4,143.5h2.2v2.2h-2.2zM597.9,142.8h2.2v2.2h-2.2zM587.0,140.2h2.2v2.2h-2.2zM589.5,138.8h2.2v2.2h-2.2zM597.0,140.6h2.2v2.2h-2.2zM609.0,148.2h2.2v2.2h-2.2zM583.3,152.9h2.2v2.2h-2.2zM588.4,153.9h2.2v2.2h-2.2zM600.7,141.4h2.2v2.2h-2.2zM590.2,140.8h2.2v2.2h-2.2zM597.2,157.0h2.2v2.2h-2.2zM588.7,156.5h2.2v2.2h-2.2zM600.8,154.2h2.2v2.2h-2.2zM604.0,146.1h2.2v2.2h-2.2zM609.2,152.3h2.2v2.2h-2.2zM601.6,142.9h2.2v2.2h-2.2zM605.3,151.1h2.2v2.2h-2.2zM584.2,157.7h2.2v2.2h-2.2zM603.6,147.6h2.2v2.2h-2.2zM597.6,153.2h2.2v2.2h-2.2zM598.5,153.9h2.2v2.2h-2.2zM595.2,148.4h2.2v2.2h-2.2zM588.3,141.3h2.2v2.2h-2.2zM587.8,143.2h2.2v2.2h-2.2zM603.3,156.3h2.2v2.2h-2.2zM605.2,150.2h2.2v2.2h-2.2zM585.3,155.8h2.2v2.2h-2.2zM584.1,143.9h2.2v2.2h-2.2zM585.1,146.4h2.2v2.2h-2.2zM581.9,146.0h2.2v2.2h-2.2zM586.6,156.4h2.2v2.2h-2.2zM593.6,137.9h2.2v2.2h-2.2zM608.2,154.8h2.2v2.2h-2.2zM598.1,156.2h2.2v2.2h-2.2zM579.0,143.5h2.2v2.2h-2.2zM586.9,146.2h2.2v2.2h-2.2zM584.9,143.1h2.2v2.2h-2.2zM604.2,144.2h2.2v2.2h-2.2zM589.2,140.5h2.2v2.2h-2.2zM589.0,135.5h2.2v2.2h-2.2zM584.6,138.5h2.2v2.2h-2.2zM584.6,139.6h2.2v2.2h-2.2zM607.5,150.6h2.2v2.2h-2.2zM596.4,141.0h2.2v2.2h-2.2zM585.0,141.8h2.2v2.2h-2.2zM608.2,150.8h2.2v2.2h-2.2zM590.0,156.1h2.2v2.2h-2.2zM589.7,137.3h2.2v2.2h-2.2zM578.7,146.3h2.2v2.2h-2.2zM596.0,156.2h2.2v2.2h-2.2zM606.4,153.7h2.2v2.2h-2.2zM584.8,148.6h2.2v2.2h-2.2zM597.9,157.7h2.2v2.2h-2.2zM600.1,148.6h2.2v2.2h-2.2zM601.5,152.2h2.2v2.2h-2.2zM592.9,138.7h2.2v2.2h-2.2zM582.3,147.7h2.2v2.2h-2.2zM586.2,135.3h2.2v2.2h-2.2zM604.3,154.5h2.2v2.2h-2.2zM602.6,151.2h2.2v2.2h-2.2zM607.1,152.1h2.2v2.2h-2.2zM596.7,154.5h2.2v2.2h-2.2zM585.8,157.8h2.2v2.2h-2.2zM592.8,137.2h2.2v2.2h-2.2zM591.8,145.3h2.2v2.2h-2.2zM603.0,151.8h2.2v2.2h-2.2zM582.1,151.8h2.2v2.2h-2.2zM596.9,153.5h2.2v2.2h-2.2zM595.5,144.4h2.2v2.2h-2.2zM600.6,143.4h2.2v2.2h-2.2zM586.4,135.0h2.2v2.2h-2.2zM586.7,140.7h2.2v2.2h-2.2zM589.5,137.7h2.2v2.2h-2.2zM585.6,136.8h2.2v2.2h-2.2zM585.1,156.8h2.2v2.2h-2.2zM600.1,153.8h2.2v2.2h-2.2zM607.1,155.3h2.2v2.2h-2.2zM599.5,144.4h2.2v2.2h-2.2zM598.6,144.0h2.2v2.2h-2.2zM596.6,159.0h2.2v2.2h-2.2zM585.1,140.3h2.2v2.2h-2.2zM601.8,147.6h2.2v2.2h-2.2zM584.9,146.9h2.2v2.2h-2.2zM601.1,147.8h2.2v2.2h-2.2zM587.2,139.3h2.2v2.2h-2.2zM586.7,149.6h2.2v2.2h-2.2zM584.7,136.5h2.2v2.2h-2.2zM586.9,140.5h2.2v2.2h-2.2zM602.4,148.8h2.2v2.2h-2.2zM608.3,154.6h2.2v2.2h-2.2zM587.7,140.4h2.2v2.2h-2.2zM584.5,155.5h2.2v2.2h-2.2zM588.0,155.8h2.2v2.2h-2.2zM603.2,151.5h2.2v2.2h-2.2zM586.9,136.2h2.2v2.2h-2.2zM602.8,157.7h2.2v2.2h-2.2zM581.9,147.5h2.2v2.2h-2.2zM601.4,147.6h2.2v2.2h-2.2zM607.9,150.6h2.2v2.2h-2.2zM587.4,154.1h2.2v2.2h-2.2zM589.7,139.7h2.2v2.2h-2.2zM604.8,146.7h2.2v2.2h-2.2zM604.0,158.2h2.2v2.2h-2.2zM599.4,147.0h2.2v2.2h-2.2zM590.8,134.3h2.2v2.2h-2.2zM602.0,140.9h2.2v2.2h-2.2zM587.2,154.3h2.2v2.2h-2.2zM599.1,159.4h2.2v2.2h-2.2zM586.0,157.1h2.2v2.2h-2.2zM587.3,156.1h2.2v2.2h-2.2zM588.0,155.6h2.2v2.2h-2.2zM604.2,158.2h2.2v2.2h-2.2zM607.4,153.7h2.2v2.2h-2.2zM592.8,141.6h2.2v2.2h-2.2zM583.4,154.6h2.2v2.2h-2.2zM579.0,143.9h2.2v2.2h-2.2zM579.4,143.3h2.2v2.2h-2.2zM590.9,137.9h2.2v2.2h-2.2zM601.9,146.9h2.2v2.2h-2.2zM602.3,153.1h2.2v2.2h-2.2zM584.5,154.8h2.2v2.2h-2.2zM582.4,156.4h2.2v2.2h-2.2zM600.1,141.2h2.2v2.2h-2.2zM608.1,146.0h2.2v2.2h-2.2zM589.4,155.4h2.2v2.2h-2.2z" fill="#18f060"/>
<text x="695" y="116.4" font-size="25" class="b">supervise</text>
<line x1="797" y1="131" x2="696.5" y2="131.0" stroke="#111" stroke-width="1.8"/>
<path d="M688.0,131.0 L696.5,126.6 L696.5,135.4z" fill="#111"/>
<line x1="776" y1="131" x2="797" y2="131" stroke="#000" stroke-width="3"/>
<text x="768" y="70" font-size="25" class="b">Pseudo label</text>
<text x="915" y="70" font-size="25" class="b">P</text>
<text x="814.8" y="98.5" font-size="16.5" fill="#333" text-anchor="middle" transform="translate(285.2,0) scale(0.65,1)">1</text>
<text x="837.3" y="98.5" font-size="16.5" fill="#333" text-anchor="middle" transform="translate(293.1,0) scale(0.65,1)">0</text>
<text x="859.1" y="98.5" font-size="16.5" fill="#333" text-anchor="middle" transform="translate(300.7,0) scale(0.65,1)">0</text>
<text x="881.1" y="98.5" font-size="16.5" fill="#333" text-anchor="middle" transform="translate(308.4,0) scale(0.65,1)">0</text>
<text x="814.8" y="121.8" font-size="16.5" fill="#333" text-anchor="middle" transform="translate(285.2,0) scale(0.65,1)">0</text>
<text x="837.3" y="121.8" font-size="16.5" fill="#333" text-anchor="middle" transform="translate(293.1,0) scale(0.65,1)">1</text>
<text x="859.1" y="121.8" font-size="16.5" fill="#333" text-anchor="middle" transform="translate(300.7,0) scale(0.65,1)">0</text>
<text x="881.1" y="121.8" font-size="16.5" fill="#333" text-anchor="middle" transform="translate(308.4,0) scale(0.65,1)">0</text>
<text x="814.8" y="144.9" font-size="16.5" fill="#333" text-anchor="middle" transform="translate(285.2,0) scale(0.65,1)">0</text>
<text x="837.3" y="144.9" font-size="16.5" fill="#333" text-anchor="middle" transform="translate(293.1,0) scale(0.65,1)">0</text>
<text x="859.1" y="144.9" font-size="16.5" fill="#333" text-anchor="middle" transform="translate(300.7,0) scale(0.65,1)">1</text>
<text x="881.1" y="144.9" font-size="16.5" fill="#333" text-anchor="middle" transform="translate(308.4,0) scale(0.65,1)">0</text>
<text x="814.8" y="169.0" font-size="16.5" fill="#333" text-anchor="middle" transform="translate(285.2,0) scale(0.65,1)">0</text>
<text x="837.3" y="169.0" font-size="16.5" fill="#333" text-anchor="middle" transform="translate(293.1,0) scale(0.65,1)">0</text>
<text x="859.1" y="169.0" font-size="16.5" fill="#333" text-anchor="middle" transform="translate(300.7,0) scale(0.65,1)">0</text>
<text x="881.1" y="169.0" font-size="16.5" fill="#333" text-anchor="middle" transform="translate(308.4,0) scale(0.65,1)">1</text>
<path d="M806,84 L811,84 M806,171.5 L811,171.5" stroke="#000" stroke-width="1.2"/>
<path d="M886,84 L891,84 L891,171.5 L886,171.5" fill="none" stroke="#000" stroke-width="1.4"/>
<line x1="848.7" y1="267.5" x2="848.7" y2="186.2" stroke="#ff0000" stroke-width="2.6"/>
<path d="M848.7,177.7 L853.2,186.2 L844.2,186.2z" fill="#ff0000"/>
<text x="621" y="220.6" font-size="24.8" class="b">Contrastive</text>
<text x="621" y="250.5" font-size="24.8" class="b">learning</text>
<line x1="603.7" y1="184" x2="603.7" y2="252.0" stroke="#111" stroke-width="1.5"/>
<path d="M603.7,263.0 L599.2,252.0 L608.2,252.0z" fill="#111"/>
<rect x="506.2" y="12.8" width="266.8" height="273.6" rx="3" fill="none" stroke="#ff0000" stroke-width="2.7"/>
<line x1="852.4" y1="471.3" x2="853.4" y2="553" stroke="#ff0000" stroke-width="1.6"/>
<path d="M853.5,562 L849.5,551 L857.5,551z" fill="#ff0000"/>
<rect x="813.5" y="574.3" width="14.0" height="13.6" fill="#5cc0f2"/>
<rect x="827.5" y="574.3" width="14.0" height="13.6" fill="#5cc0f2"/>
<rect x="841.5" y="574.3" width="14.0" height="13.6" fill="#fff"/>
<rect x="855.5" y="574.3" width="14.0" height="13.6" fill="#fff"/>
<rect x="869.5" y="574.3" width="14.0" height="13.6" fill="#fff"/>
<rect x="883.5" y="574.3" width="14.0" height="13.6" fill="#fff"/>
<rect x="813.5" y="587.9" width="14.0" height="13.6" fill="#5cc0f2"/>
<rect x="827.5" y="587.9" width="14.0" height="13.6" fill="#5cc0f2"/>
<rect x="841.5" y="587.9" width="14.0" height="13.6" fill="#fff"/>
<rect x="855.5" y="587.9" width="14.0" height="13.6" fill="#fff"/>
<rect x="869.5" y="587.9" width="14.0" height="13.6" fill="#fff"/>
<rect x="883.5" y="587.9" width="14.0" height="13.6" fill="#fff"/>
<rect x="813.5" y="601.5" width="14.0" height="13.6" fill="#fff"/>
<rect x="827.5" y="601.5" width="14.0" height="13.6" fill="#fff"/>
<rect x="841.5" y="601.5" width="14.0" height="13.6" fill="#f6b70c"/>
<rect x="855.5" y="601.5" width="14.0" height="13.6" fill="#f6b70c"/>
<rect x="869.5" y="601.5" width="14.0" height="13.6" fill="#fff"/>
<rect x="883.5" y="601.5" width="14.0" height="13.6" fill="#fff"/>
<rect x="813.5" y="615.1" width="14.0" height="13.6" fill="#fff"/>
<rect x="827.5" y="615.1" width="14.0" height="13.6" fill="#fff"/>
<rect x="841.5" y="615.1" width="14.0" height="13.6" fill="#f6b70c"/>
<rect x="855.5" y="615.1" width="14.0" height="13.6" fill="#f6b70c"/>
<rect x="869.5" y="615.1" width="14.0" height="13.6" fill="#fff"/>
<rect x="883.5" y="615.1" width="14.0" height="13.6" fill="#fff"/>
<rect x="813.5" y="628.7" width="14.0" height="13.6" fill="#fff"/>
<rect x="827.5" y="628.7" width="14.0" height="13.6" fill="#fff"/>
<rect x="841.5" y="628.7" width="14.0" height="13.6" fill="#fff"/>
<rect x="855.5" y="628.7" width="14.0" height="13.6" fill="#fff"/>
<rect x="869.5" y="628.7" width="14.0" height="13.6" fill="#8dcb54"/>
<rect x="883.5" y="628.7" width="14.0" height="13.6" fill="#8dcb54"/>
<rect x="813.5" y="642.3" width="14.0" height="13.6" fill="#fff"/>
<rect x="827.5" y="642.3" width="14.0" height="13.6" fill="#fff"/>
<rect x="841.5" y="642.3" width="14.0" height="13.6" fill="#fff"/>
<rect x="855.5" y="642.3" width="14.0" height="13.6" fill="#fff"/>
<rect x="869.5" y="642.3" width="14.0" height="13.6" fill="#8dcb54"/>
<rect x="883.5" y="642.3" width="14.0" height="13.6" fill="#8dcb54"/>
<line x1="813.5" y1="573.3" x2="813.5" y2="656.9" stroke="#000" stroke-width="2"/>
<line x1="812.5" y1="574.3" x2="898.5" y2="574.3" stroke="#000" stroke-width="2"/>
<line x1="827.5" y1="573.3" x2="827.5" y2="656.9" stroke="#000" stroke-width="2"/>
<line x1="812.5" y1="587.9" x2="898.5" y2="587.9" stroke="#000" stroke-width="2"/>
<line x1="841.5" y1="573.3" x2="841.5" y2="656.9" stroke="#000" stroke-width="2"/>
<line x1="812.5" y1="601.5" x2="898.5" y2="601.5" stroke="#000" stroke-width="2"/>
<line x1="855.5" y1="573.3" x2="855.5" y2="656.9" stroke="#000" stroke-width="2"/>
<line x1="812.5" y1="615.1" x2="898.5" y2="615.1" stroke="#000" stroke-width="2"/>
<line x1="869.5" y1="573.3" x2="869.5" y2="656.9" stroke="#000" stroke-width="2"/>
<line x1="812.5" y1="628.7" x2="898.5" y2="628.7" stroke="#000" stroke-width="2"/>
<line x1="883.5" y1="573.3" x2="883.5" y2="656.9" stroke="#000" stroke-width="2"/>
<line x1="812.5" y1="642.3" x2="898.5" y2="642.3" stroke="#000" stroke-width="2"/>
<line x1="897.5" y1="573.3" x2="897.5" y2="656.9" stroke="#000" stroke-width="2"/>
<line x1="812.5" y1="655.9" x2="898.5" y2="655.9" stroke="#000" stroke-width="2"/>
<text x="0" y="0" font-size="29.5" class="b" fill="#ff0000" transform="translate(664,597) scale(0.945,1)">Clustering</text>
<line x1="802" y1="611.3" x2="663.0" y2="611.0" stroke="#111" stroke-width="1.5"/>
<path d="M654.5,611.0 L663.0,606.6 L663.0,615.4z" fill="#111"/>
<line x1="710" y1="611" x2="662" y2="611" stroke="#000" stroke-width="2.8"/>
<text x="572.2" y="588.2" font-size="14" text-anchor="middle" transform="translate(200.3,0) scale(0.65,1)">1</text>
<text x="593.2" y="588.2" font-size="14" text-anchor="middle" transform="translate(207.6,0) scale(0.65,1)">1</text>
<text x="613.2" y="588.2" font-size="14" text-anchor="middle" transform="translate(214.6,0) scale(0.65,1)">0</text>
<text x="634.7" y="588.2" font-size="14" text-anchor="middle" transform="translate(222.1,0) scale(0.65,1)">0</text>
<text x="572.2" y="610" font-size="14" text-anchor="middle" transform="translate(200.3,0) scale(0.65,1)">0</text>
<text x="593.2" y="610" font-size="14" text-anchor="middle" transform="translate(207.6,0) scale(0.65,1)">0</text>
<text x="613.2" y="610" font-size="14" text-anchor="middle" transform="translate(214.6,0) scale(0.65,1)">1</text>
<text x="634.7" y="610" font-size="14" text-anchor="middle" transform="translate(222.1,0) scale(0.65,1)">0</text>
<text x="572.2" y="631.9" font-size="14" text-anchor="middle" transform="translate(200.3,0) scale(0.65,1)">0</text>
<text x="593.2" y="631.9" font-size="14" text-anchor="middle" transform="translate(207.6,0) scale(0.65,1)">0</text>
<text x="613.2" y="631.9" font-size="14" text-anchor="middle" transform="translate(214.6,0) scale(0.65,1)">0</text>
<text x="634.7" y="631.9" font-size="14" text-anchor="middle" transform="translate(222.1,0) scale(0.65,1)">0</text>
<text x="572.2" y="655" font-size="14" text-anchor="middle" transform="translate(200.3,0) scale(0.65,1)">0</text>
<text x="593.2" y="655" font-size="14" text-anchor="middle" transform="translate(207.6,0) scale(0.65,1)">0</text>
<text x="613.2" y="655" font-size="14" text-anchor="middle" transform="translate(214.6,0) scale(0.65,1)">0</text>
<text x="634.7" y="655" font-size="14" text-anchor="middle" transform="translate(222.1,0) scale(0.65,1)">1</text>
<path d="M563,575 L568,575 M563,658.3 L568,658.3 M640,575 L645,575 M640,658.3 L645,658.3" stroke="#000" stroke-width="1.2"/>
<text x="492" y="694.4" font-size="24.6" class="b">Predicted label</text><text x="665.5" y="694.4" font-size="24.6" class="b">P</text>
<text x="755" y="686.5" font-size="25.4" class="b">Coefficient matrix S</text>
<text x="798" y="699.7" font-size="16.6" fill="#9a9a9a" fill-opacity="0.85" style="font-family:'Liberation Sans',sans-serif">CSDN @m0_56840294</text>
</svg>
</body></html>
